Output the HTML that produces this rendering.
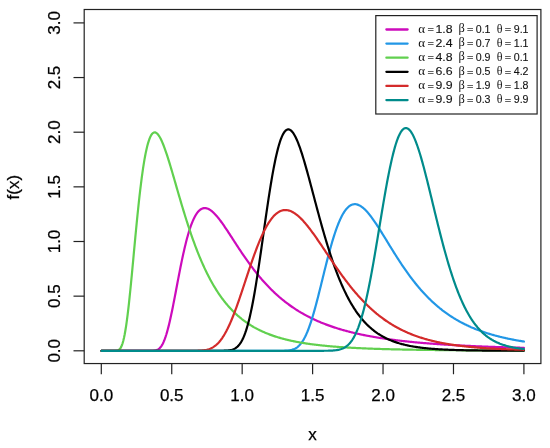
<!DOCTYPE html>
<html><head><meta charset="utf-8"><title>Density plot</title>
<style>
html,body{margin:0;padding:0;background:#fff}
body{width:550px;height:448px;overflow:hidden}
.t{font-family:"Liberation Sans",sans-serif;fill:#000;stroke:#000;stroke-width:0.25}
.l{font-family:"Liberation Sans",sans-serif;fill:#111;stroke:#111;stroke-width:0.12}
.g{font-family:"Liberation Serif","DejaVu Serif",serif;fill:#111}
</style></head><body>
<svg width="550" height="448" viewBox="0 0 550 448" style="display:block">
<rect width="550" height="448" fill="#fff"/>
<path d="M101.44,350.80 L102.15,350.80 L102.85,350.80 L103.56,350.80 L104.26,350.80 L104.97,350.80 L105.67,350.80 L106.38,350.80 L107.08,350.80 L107.79,350.80 L108.49,350.80 L109.20,350.80 L109.90,350.80 L110.61,350.80 L111.31,350.80 L112.02,350.80 L112.73,350.80 L113.43,350.80 L114.14,350.80 L114.84,350.80 L115.55,350.80 L116.25,350.80 L116.96,350.80 L117.66,350.80 L118.37,350.80 L119.07,350.80 L119.78,350.80 L120.48,350.80 L121.19,350.80 L121.89,350.80 L122.60,350.80 L123.30,350.80 L124.01,350.80 L124.72,350.80 L125.42,350.80 L126.13,350.80 L126.83,350.80 L127.54,350.80 L128.24,350.80 L128.95,350.80 L129.65,350.80 L130.36,350.80 L131.06,350.80 L131.77,350.80 L132.47,350.80 L133.18,350.80 L133.88,350.80 L134.59,350.80 L135.29,350.80 L136.00,350.80 L136.71,350.80 L137.41,350.80 L138.12,350.80 L138.82,350.80 L139.53,350.80 L140.23,350.80 L140.94,350.80 L141.64,350.80 L142.35,350.80 L143.05,350.80 L143.76,350.80 L144.46,350.80 L145.17,350.80 L145.87,350.80 L146.58,350.80 L147.28,350.80 L147.99,350.80 L148.70,350.80 L149.40,350.80 L150.11,350.79 L150.81,350.79 L151.52,350.78 L152.22,350.76 L152.93,350.73 L153.63,350.68 L154.34,350.60 L155.04,350.50 L155.75,350.35 L156.45,350.15 L157.16,349.87 L157.86,349.52 L158.57,349.08 L159.27,348.52 L159.98,347.85 L160.69,347.03 L161.39,346.07 L162.10,344.95 L162.80,343.66 L163.51,342.19 L164.21,340.54 L164.92,338.71 L165.62,336.70 L166.33,334.50 L167.03,332.12 L167.74,329.57 L168.44,326.86 L169.15,323.99 L169.85,320.97 L170.56,317.82 L171.26,314.54 L171.97,311.17 L172.68,307.69 L173.38,304.15 L174.09,300.53 L174.79,296.87 L175.50,293.18 L176.20,289.47 L176.91,285.75 L177.61,282.04 L178.32,278.36 L179.02,274.70 L179.73,271.09 L180.43,267.54 L181.14,264.05 L181.84,260.63 L182.55,257.29 L183.25,254.04 L183.96,250.89 L184.67,247.84 L185.37,244.89 L186.08,242.06 L186.78,239.33 L187.49,236.73 L188.19,234.24 L188.90,231.87 L189.60,229.62 L190.31,227.49 L191.01,225.48 L191.72,223.59 L192.42,221.82 L193.13,220.17 L193.83,218.64 L194.54,217.22 L195.24,215.92 L195.95,214.73 L196.66,213.64 L197.36,212.67 L198.07,211.79 L198.77,211.02 L199.48,210.34 L200.18,209.77 L200.89,209.28 L201.59,208.88 L202.30,208.56 L203.00,208.33 L203.71,208.18 L204.41,208.11 L205.12,208.11 L205.82,208.18 L206.53,208.31 L207.23,208.51 L207.94,208.77 L208.65,209.09 L209.35,209.47 L210.06,209.90 L210.76,210.38 L211.47,210.90 L212.17,211.47 L212.88,212.09 L213.58,212.74 L214.29,213.44 L214.99,214.16 L215.70,214.92 L216.40,215.72 L217.11,216.54 L217.81,217.39 L218.52,218.26 L219.22,219.16 L219.93,220.08 L220.63,221.02 L221.34,221.98 L222.05,222.96 L222.75,223.95 L223.46,224.96 L224.16,225.98 L224.87,227.01 L225.57,228.05 L226.28,229.11 L226.98,230.16 L227.69,231.23 L228.39,232.30 L229.10,233.38 L229.80,234.46 L230.51,235.55 L231.21,236.64 L231.92,237.72 L232.62,238.81 L233.33,239.90 L234.04,240.99 L234.74,242.08 L235.45,243.17 L236.15,244.26 L236.86,245.34 L237.56,246.42 L238.27,247.49 L238.97,248.56 L239.68,249.63 L240.38,250.69 L241.09,251.75 L241.79,252.80 L242.50,253.84 L243.20,254.88 L243.91,255.91 L244.61,256.94 L245.32,257.95 L246.03,258.97 L246.73,259.97 L247.44,260.96 L248.14,261.95 L248.85,262.93 L249.55,263.90 L250.26,264.87 L250.96,265.82 L251.67,266.77 L252.37,267.71 L253.08,268.63 L253.78,269.56 L254.49,270.47 L255.19,271.37 L255.90,272.26 L256.60,273.15 L257.31,274.03 L258.02,274.89 L258.72,275.75 L259.43,276.60 L260.13,277.44 L260.84,278.28 L261.54,279.10 L262.25,279.91 L262.95,280.72 L263.66,281.51 L264.36,282.30 L265.07,283.08 L265.77,283.85 L266.48,284.61 L267.18,285.36 L267.89,286.11 L268.59,286.84 L269.30,287.57 L270.01,288.29 L270.71,289.00 L271.42,289.70 L272.12,290.39 L272.83,291.08 L273.53,291.76 L274.24,292.42 L274.94,293.09 L275.65,293.74 L276.35,294.38 L277.06,295.02 L277.76,295.65 L278.47,296.27 L279.17,296.89 L279.88,297.49 L280.58,298.09 L281.29,298.69 L282.00,299.27 L282.70,299.85 L283.41,300.42 L284.11,300.98 L284.82,301.54 L285.52,302.09 L286.23,302.63 L286.93,303.17 L287.64,303.70 L288.34,304.22 L289.05,304.74 L289.75,305.25 L290.46,305.75 L291.16,306.25 L291.87,306.74 L292.57,307.22 L293.28,307.70 L293.99,308.18 L294.69,308.64 L295.40,309.10 L296.10,309.56 L296.81,310.01 L297.51,310.45 L298.22,310.89 L298.92,311.33 L299.63,311.75 L300.33,312.18 L301.04,312.59 L301.74,313.00 L302.45,313.41 L303.15,313.81 L303.86,314.21 L304.56,314.60 L305.27,314.99 L305.98,315.37 L306.68,315.75 L307.39,316.12 L308.09,316.49 L308.80,316.85 L309.50,317.21 L310.21,317.56 L310.91,317.91 L311.62,318.26 L312.32,318.60 L313.03,318.94 L313.73,319.27 L314.44,319.60 L315.14,319.93 L315.85,320.25 L316.55,320.56 L317.26,320.88 L317.97,321.19 L318.67,321.49 L319.38,321.79 L320.08,322.09 L320.79,322.39 L321.49,322.68 L322.20,322.96 L322.90,323.25 L323.61,323.53 L324.31,323.80 L325.02,324.08 L325.72,324.35 L326.43,324.61 L327.13,324.88 L327.84,325.14 L328.54,325.40 L329.25,325.65 L329.96,325.90 L330.66,326.15 L331.37,326.39 L332.07,326.64 L332.78,326.88 L333.48,327.11 L334.19,327.35 L334.89,327.58 L335.60,327.81 L336.30,328.03 L337.01,328.25 L337.71,328.47 L338.42,328.69 L339.12,328.91 L339.83,329.12 L340.53,329.33 L341.24,329.54 L341.94,329.74 L342.65,329.94 L343.36,330.14 L344.06,330.34 L344.77,330.54 L345.47,330.73 L346.18,330.92 L346.88,331.11 L347.59,331.30 L348.29,331.48 L349.00,331.67 L349.70,331.85 L350.41,332.02 L351.11,332.20 L351.82,332.37 L352.52,332.55 L353.23,332.72 L353.93,332.89 L354.64,333.05 L355.35,333.22 L356.05,333.38 L356.76,333.54 L357.46,333.70 L358.17,333.86 L358.87,334.01 L359.58,334.17 L360.28,334.32 L360.99,334.47 L361.69,334.62 L362.40,334.76 L363.10,334.91 L363.81,335.05 L364.51,335.19 L365.22,335.33 L365.92,335.47 L366.63,335.61 L367.34,335.75 L368.04,335.88 L368.75,336.01 L369.45,336.15 L370.16,336.28 L370.86,336.40 L371.57,336.53 L372.27,336.66 L372.98,336.78 L373.68,336.91 L374.39,337.03 L375.09,337.15 L375.80,337.27 L376.50,337.38 L377.21,337.50 L377.91,337.62 L378.62,337.73 L379.33,337.84 L380.03,337.96 L380.74,338.07 L381.44,338.18 L382.15,338.28 L382.85,338.39 L383.56,338.50 L384.26,338.60 L384.97,338.70 L385.67,338.81 L386.38,338.91 L387.08,339.01 L387.79,339.11 L388.49,339.21 L389.20,339.30 L389.90,339.40 L390.61,339.50 L391.32,339.59 L392.02,339.68 L392.73,339.78 L393.43,339.87 L394.14,339.96 L394.84,340.05 L395.55,340.14 L396.25,340.22 L396.96,340.31 L397.66,340.40 L398.37,340.48 L399.07,340.57 L399.78,340.65 L400.48,340.73 L401.19,340.81 L401.89,340.89 L402.60,340.97 L403.31,341.05 L404.01,341.13 L404.72,341.21 L405.42,341.29 L406.13,341.36 L406.83,341.44 L407.54,341.51 L408.24,341.59 L408.95,341.66 L409.65,341.73 L410.36,341.80 L411.06,341.88 L411.77,341.95 L412.47,342.02 L413.18,342.08 L413.88,342.15 L414.59,342.22 L415.30,342.29 L416.00,342.35 L416.71,342.42 L417.41,342.48 L418.12,342.55 L418.82,342.61 L419.53,342.68 L420.23,342.74 L420.94,342.80 L421.64,342.86 L422.35,342.92 L423.05,342.98 L423.76,343.04 L424.46,343.10 L425.17,343.16 L425.87,343.22 L426.58,343.27 L427.29,343.33 L427.99,343.39 L428.70,343.44 L429.40,343.50 L430.11,343.55 L430.81,343.61 L431.52,343.66 L432.22,343.71 L432.93,343.77 L433.63,343.82 L434.34,343.87 L435.04,343.92 L435.75,343.97 L436.45,344.02 L437.16,344.07 L437.86,344.12 L438.57,344.17 L439.28,344.22 L439.98,344.27 L440.69,344.32 L441.39,344.36 L442.10,344.41 L442.80,344.46 L443.51,344.50 L444.21,344.55 L444.92,344.59 L445.62,344.64 L446.33,344.68 L447.03,344.72 L447.74,344.77 L448.44,344.81 L449.15,344.85 L449.85,344.90 L450.56,344.94 L451.27,344.98 L451.97,345.02 L452.68,345.06 L453.38,345.10 L454.09,345.14 L454.79,345.18 L455.50,345.22 L456.20,345.26 L456.91,345.30 L457.61,345.34 L458.32,345.38 L459.02,345.41 L459.73,345.45 L460.43,345.49 L461.14,345.52 L461.84,345.56 L462.55,345.60 L463.25,345.63 L463.96,345.67 L464.67,345.70 L465.37,345.74 L466.08,345.77 L466.78,345.81 L467.49,345.84 L468.19,345.87 L468.90,345.91 L469.60,345.94 L470.31,345.97 L471.01,346.01 L471.72,346.04 L472.42,346.07 L473.13,346.10 L473.83,346.13 L474.54,346.16 L475.24,346.20 L475.95,346.23 L476.66,346.26 L477.36,346.29 L478.07,346.32 L478.77,346.35 L479.48,346.38 L480.18,346.41 L480.89,346.43 L481.59,346.46 L482.30,346.49 L483.00,346.52 L483.71,346.55 L484.41,346.58 L485.12,346.60 L485.82,346.63 L486.53,346.66 L487.23,346.68 L487.94,346.71 L488.65,346.74 L489.35,346.76 L490.06,346.79 L490.76,346.81 L491.47,346.84 L492.17,346.87 L492.88,346.89 L493.58,346.92 L494.29,346.94 L494.99,346.97 L495.70,346.99 L496.40,347.01 L497.11,347.04 L497.81,347.06 L498.52,347.09 L499.22,347.11 L499.93,347.13 L500.64,347.15 L501.34,347.18 L502.05,347.20 L502.75,347.22 L503.46,347.25 L504.16,347.27 L504.87,347.29 L505.57,347.31 L506.28,347.33 L506.98,347.35 L507.69,347.38 L508.39,347.40 L509.10,347.42 L509.80,347.44 L510.51,347.46 L511.21,347.48 L511.92,347.50 L512.63,347.52 L513.33,347.54 L514.04,347.56 L514.74,347.58 L515.45,347.60 L516.15,347.62 L516.86,347.64 L517.56,347.66 L518.27,347.68 L518.97,347.69 L519.68,347.71 L520.38,347.73 L521.09,347.75 L521.79,347.77 L522.50,347.79 L523.20,347.80 L523.91,347.82" fill="none" stroke="#cd0bbc" stroke-width="2.2" stroke-linecap="round" stroke-linejoin="round"/>
<path d="M101.44,350.80 L102.15,350.80 L102.85,350.80 L103.56,350.80 L104.26,350.80 L104.97,350.80 L105.67,350.80 L106.38,350.80 L107.08,350.80 L107.79,350.80 L108.49,350.80 L109.20,350.80 L109.90,350.80 L110.61,350.80 L111.31,350.80 L112.02,350.80 L112.73,350.80 L113.43,350.80 L114.14,350.80 L114.84,350.80 L115.55,350.80 L116.25,350.80 L116.96,350.80 L117.66,350.80 L118.37,350.80 L119.07,350.80 L119.78,350.80 L120.48,350.80 L121.19,350.80 L121.89,350.80 L122.60,350.80 L123.30,350.80 L124.01,350.80 L124.72,350.80 L125.42,350.80 L126.13,350.80 L126.83,350.80 L127.54,350.80 L128.24,350.80 L128.95,350.80 L129.65,350.80 L130.36,350.80 L131.06,350.80 L131.77,350.80 L132.47,350.80 L133.18,350.80 L133.88,350.80 L134.59,350.80 L135.29,350.80 L136.00,350.80 L136.71,350.80 L137.41,350.80 L138.12,350.80 L138.82,350.80 L139.53,350.80 L140.23,350.80 L140.94,350.80 L141.64,350.80 L142.35,350.80 L143.05,350.80 L143.76,350.80 L144.46,350.80 L145.17,350.80 L145.87,350.80 L146.58,350.80 L147.28,350.80 L147.99,350.80 L148.70,350.80 L149.40,350.80 L150.11,350.80 L150.81,350.80 L151.52,350.80 L152.22,350.80 L152.93,350.80 L153.63,350.80 L154.34,350.80 L155.04,350.80 L155.75,350.80 L156.45,350.80 L157.16,350.80 L157.86,350.80 L158.57,350.80 L159.27,350.80 L159.98,350.80 L160.69,350.80 L161.39,350.80 L162.10,350.80 L162.80,350.80 L163.51,350.80 L164.21,350.80 L164.92,350.80 L165.62,350.80 L166.33,350.80 L167.03,350.80 L167.74,350.80 L168.44,350.80 L169.15,350.80 L169.85,350.80 L170.56,350.80 L171.26,350.80 L171.97,350.80 L172.68,350.80 L173.38,350.80 L174.09,350.80 L174.79,350.80 L175.50,350.80 L176.20,350.80 L176.91,350.80 L177.61,350.80 L178.32,350.80 L179.02,350.80 L179.73,350.80 L180.43,350.80 L181.14,350.80 L181.84,350.80 L182.55,350.80 L183.25,350.80 L183.96,350.80 L184.67,350.80 L185.37,350.80 L186.08,350.80 L186.78,350.80 L187.49,350.80 L188.19,350.80 L188.90,350.80 L189.60,350.80 L190.31,350.80 L191.01,350.80 L191.72,350.80 L192.42,350.80 L193.13,350.80 L193.83,350.80 L194.54,350.80 L195.24,350.80 L195.95,350.80 L196.66,350.80 L197.36,350.80 L198.07,350.80 L198.77,350.80 L199.48,350.80 L200.18,350.80 L200.89,350.80 L201.59,350.80 L202.30,350.80 L203.00,350.80 L203.71,350.80 L204.41,350.80 L205.12,350.80 L205.82,350.80 L206.53,350.80 L207.23,350.80 L207.94,350.80 L208.65,350.80 L209.35,350.80 L210.06,350.80 L210.76,350.80 L211.47,350.80 L212.17,350.80 L212.88,350.80 L213.58,350.80 L214.29,350.80 L214.99,350.80 L215.70,350.80 L216.40,350.80 L217.11,350.80 L217.81,350.80 L218.52,350.80 L219.22,350.80 L219.93,350.80 L220.63,350.80 L221.34,350.80 L222.05,350.80 L222.75,350.80 L223.46,350.80 L224.16,350.80 L224.87,350.80 L225.57,350.80 L226.28,350.80 L226.98,350.80 L227.69,350.80 L228.39,350.80 L229.10,350.80 L229.80,350.80 L230.51,350.80 L231.21,350.80 L231.92,350.80 L232.62,350.80 L233.33,350.80 L234.04,350.80 L234.74,350.80 L235.45,350.80 L236.15,350.80 L236.86,350.80 L237.56,350.80 L238.27,350.80 L238.97,350.80 L239.68,350.80 L240.38,350.80 L241.09,350.80 L241.79,350.80 L242.50,350.80 L243.20,350.80 L243.91,350.80 L244.61,350.80 L245.32,350.80 L246.03,350.80 L246.73,350.80 L247.44,350.80 L248.14,350.80 L248.85,350.80 L249.55,350.80 L250.26,350.80 L250.96,350.80 L251.67,350.80 L252.37,350.80 L253.08,350.80 L253.78,350.80 L254.49,350.80 L255.19,350.80 L255.90,350.80 L256.60,350.80 L257.31,350.80 L258.02,350.80 L258.72,350.80 L259.43,350.80 L260.13,350.80 L260.84,350.80 L261.54,350.80 L262.25,350.80 L262.95,350.80 L263.66,350.80 L264.36,350.80 L265.07,350.80 L265.77,350.80 L266.48,350.80 L267.18,350.80 L267.89,350.80 L268.59,350.80 L269.30,350.80 L270.01,350.80 L270.71,350.80 L271.42,350.80 L272.12,350.80 L272.83,350.80 L273.53,350.80 L274.24,350.80 L274.94,350.80 L275.65,350.80 L276.35,350.80 L277.06,350.80 L277.76,350.80 L278.47,350.80 L279.17,350.79 L279.88,350.79 L280.58,350.79 L281.29,350.78 L282.00,350.77 L282.70,350.76 L283.41,350.75 L284.11,350.73 L284.82,350.71 L285.52,350.68 L286.23,350.64 L286.93,350.60 L287.64,350.54 L288.34,350.47 L289.05,350.38 L289.75,350.28 L290.46,350.16 L291.16,350.01 L291.87,349.84 L292.57,349.63 L293.28,349.40 L293.99,349.12 L294.69,348.80 L295.40,348.44 L296.10,348.03 L296.81,347.57 L297.51,347.04 L298.22,346.46 L298.92,345.81 L299.63,345.09 L300.33,344.29 L301.04,343.42 L301.74,342.47 L302.45,341.44 L303.15,340.32 L303.86,339.11 L304.56,337.82 L305.27,336.43 L305.98,334.95 L306.68,333.38 L307.39,331.72 L308.09,329.97 L308.80,328.12 L309.50,326.19 L310.21,324.17 L310.91,322.07 L311.62,319.88 L312.32,317.62 L313.03,315.28 L313.73,312.86 L314.44,310.39 L315.14,307.85 L315.85,305.25 L316.55,302.60 L317.26,299.90 L317.97,297.16 L318.67,294.39 L319.38,291.58 L320.08,288.76 L320.79,285.91 L321.49,283.05 L322.20,280.18 L322.90,277.31 L323.61,274.45 L324.31,271.59 L325.02,268.75 L325.72,265.93 L326.43,263.14 L327.13,260.38 L327.84,257.65 L328.54,254.96 L329.25,252.32 L329.96,249.73 L330.66,247.19 L331.37,244.70 L332.07,242.27 L332.78,239.91 L333.48,237.61 L334.19,235.38 L334.89,233.22 L335.60,231.13 L336.30,229.11 L337.01,227.17 L337.71,225.31 L338.42,223.53 L339.12,221.83 L339.83,220.20 L340.53,218.66 L341.24,217.20 L341.94,215.82 L342.65,214.52 L343.36,213.30 L344.06,212.16 L344.77,211.11 L345.47,210.13 L346.18,209.23 L346.88,208.41 L347.59,207.67 L348.29,207.00 L349.00,206.41 L349.70,205.89 L350.41,205.44 L351.11,205.07 L351.82,204.76 L352.52,204.52 L353.23,204.35 L353.93,204.24 L354.64,204.19 L355.35,204.21 L356.05,204.28 L356.76,204.41 L357.46,204.60 L358.17,204.84 L358.87,205.14 L359.58,205.48 L360.28,205.87 L360.99,206.31 L361.69,206.80 L362.40,207.32 L363.10,207.89 L363.81,208.50 L364.51,209.15 L365.22,209.83 L365.92,210.55 L366.63,211.30 L367.34,212.08 L368.04,212.90 L368.75,213.74 L369.45,214.61 L370.16,215.50 L370.86,216.42 L371.57,217.36 L372.27,218.32 L372.98,219.30 L373.68,220.30 L374.39,221.31 L375.09,222.35 L375.80,223.40 L376.50,224.46 L377.21,225.53 L377.91,226.62 L378.62,227.71 L379.33,228.82 L380.03,229.93 L380.74,231.06 L381.44,232.18 L382.15,233.32 L382.85,234.46 L383.56,235.60 L384.26,236.75 L384.97,237.90 L385.67,239.05 L386.38,240.20 L387.08,241.35 L387.79,242.51 L388.49,243.66 L389.20,244.81 L389.90,245.96 L390.61,247.10 L391.32,248.25 L392.02,249.39 L392.73,250.53 L393.43,251.66 L394.14,252.79 L394.84,253.91 L395.55,255.03 L396.25,256.14 L396.96,257.24 L397.66,258.34 L398.37,259.44 L399.07,260.52 L399.78,261.60 L400.48,262.67 L401.19,263.74 L401.89,264.79 L402.60,265.84 L403.31,266.88 L404.01,267.91 L404.72,268.93 L405.42,269.95 L406.13,270.95 L406.83,271.95 L407.54,272.94 L408.24,273.92 L408.95,274.89 L409.65,275.85 L410.36,276.80 L411.06,277.74 L411.77,278.67 L412.47,279.59 L413.18,280.51 L413.88,281.41 L414.59,282.30 L415.30,283.19 L416.00,284.06 L416.71,284.93 L417.41,285.78 L418.12,286.63 L418.82,287.47 L419.53,288.29 L420.23,289.11 L420.94,289.92 L421.64,290.72 L422.35,291.51 L423.05,292.28 L423.76,293.06 L424.46,293.82 L425.17,294.57 L425.87,295.31 L426.58,296.04 L427.29,296.77 L427.99,297.48 L428.70,298.19 L429.40,298.89 L430.11,299.58 L430.81,300.26 L431.52,300.93 L432.22,301.59 L432.93,302.25 L433.63,302.89 L434.34,303.53 L435.04,304.16 L435.75,304.78 L436.45,305.39 L437.16,306.00 L437.86,306.59 L438.57,307.18 L439.28,307.76 L439.98,308.34 L440.69,308.90 L441.39,309.46 L442.10,310.01 L442.80,310.56 L443.51,311.09 L444.21,311.62 L444.92,312.14 L445.62,312.66 L446.33,313.17 L447.03,313.67 L447.74,314.16 L448.44,314.65 L449.15,315.13 L449.85,315.60 L450.56,316.07 L451.27,316.53 L451.97,316.98 L452.68,317.43 L453.38,317.87 L454.09,318.31 L454.79,318.74 L455.50,319.16 L456.20,319.58 L456.91,319.99 L457.61,320.40 L458.32,320.80 L459.02,321.20 L459.73,321.59 L460.43,321.97 L461.14,322.35 L461.84,322.72 L462.55,323.09 L463.25,323.46 L463.96,323.82 L464.67,324.17 L465.37,324.52 L466.08,324.86 L466.78,325.20 L467.49,325.53 L468.19,325.86 L468.90,326.19 L469.60,326.51 L470.31,326.82 L471.01,327.14 L471.72,327.44 L472.42,327.75 L473.13,328.04 L473.83,328.34 L474.54,328.63 L475.24,328.91 L475.95,329.20 L476.66,329.47 L477.36,329.75 L478.07,330.02 L478.77,330.29 L479.48,330.55 L480.18,330.81 L480.89,331.06 L481.59,331.32 L482.30,331.57 L483.00,331.81 L483.71,332.05 L484.41,332.29 L485.12,332.53 L485.82,332.76 L486.53,332.99 L487.23,333.21 L487.94,333.43 L488.65,333.65 L489.35,333.87 L490.06,334.08 L490.76,334.29 L491.47,334.50 L492.17,334.70 L492.88,334.91 L493.58,335.11 L494.29,335.30 L494.99,335.50 L495.70,335.69 L496.40,335.87 L497.11,336.06 L497.81,336.24 L498.52,336.42 L499.22,336.60 L499.93,336.78 L500.64,336.95 L501.34,337.12 L502.05,337.29 L502.75,337.46 L503.46,337.62 L504.16,337.78 L504.87,337.94 L505.57,338.10 L506.28,338.25 L506.98,338.41 L507.69,338.56 L508.39,338.71 L509.10,338.85 L509.80,339.00 L510.51,339.14 L511.21,339.28 L511.92,339.42 L512.63,339.56 L513.33,339.69 L514.04,339.83 L514.74,339.96 L515.45,340.09 L516.15,340.22 L516.86,340.34 L517.56,340.47 L518.27,340.59 L518.97,340.71 L519.68,340.83 L520.38,340.95 L521.09,341.07 L521.79,341.18 L522.50,341.30 L523.20,341.41 L523.91,341.52" fill="none" stroke="#2297e6" stroke-width="2.2" stroke-linecap="round" stroke-linejoin="round"/>
<path d="M101.44,350.80 L102.15,350.80 L102.85,350.80 L103.56,350.80 L104.26,350.80 L104.97,350.80 L105.67,350.80 L106.38,350.80 L107.08,350.80 L107.79,350.80 L108.49,350.80 L109.20,350.80 L109.90,350.80 L110.61,350.80 L111.31,350.80 L112.02,350.80 L112.73,350.80 L113.43,350.80 L114.14,350.80 L114.84,350.79 L115.55,350.77 L116.25,350.72 L116.96,350.63 L117.66,350.46 L118.37,350.17 L119.07,349.73 L119.78,349.07 L120.48,348.15 L121.19,346.91 L121.89,345.29 L122.60,343.26 L123.30,340.76 L124.01,337.78 L124.72,334.30 L125.42,330.31 L126.13,325.82 L126.83,320.84 L127.54,315.39 L128.24,309.52 L128.95,303.26 L129.65,296.66 L130.36,289.76 L131.06,282.62 L131.77,275.30 L132.47,267.83 L133.18,260.29 L133.88,252.71 L134.59,245.14 L135.29,237.64 L136.00,230.24 L136.71,222.97 L137.41,215.89 L138.12,209.01 L138.82,202.36 L139.53,195.97 L140.23,189.85 L140.94,184.03 L141.64,178.51 L142.35,173.30 L143.05,168.42 L143.76,163.86 L144.46,159.63 L145.17,155.74 L145.87,152.16 L146.58,148.92 L147.28,145.99 L147.99,143.37 L148.70,141.06 L149.40,139.04 L150.11,137.31 L150.81,135.87 L151.52,134.68 L152.22,133.76 L152.93,133.08 L153.63,132.64 L154.34,132.43 L155.04,132.43 L155.75,132.63 L156.45,133.02 L157.16,133.59 L157.86,134.34 L158.57,135.24 L159.27,136.30 L159.98,137.49 L160.69,138.81 L161.39,140.26 L162.10,141.82 L162.80,143.48 L163.51,145.24 L164.21,147.09 L164.92,149.02 L165.62,151.02 L166.33,153.08 L167.03,155.21 L167.74,157.39 L168.44,159.62 L169.15,161.88 L169.85,164.19 L170.56,166.53 L171.26,168.90 L171.97,171.28 L172.68,173.69 L173.38,176.11 L174.09,178.54 L174.79,180.98 L175.50,183.43 L176.20,185.87 L176.91,188.32 L177.61,190.76 L178.32,193.19 L179.02,195.61 L179.73,198.03 L180.43,200.43 L181.14,202.82 L181.84,205.19 L182.55,207.54 L183.25,209.87 L183.96,212.19 L184.67,214.48 L185.37,216.75 L186.08,218.99 L186.78,221.21 L187.49,223.41 L188.19,225.58 L188.90,227.73 L189.60,229.85 L190.31,231.94 L191.01,234.00 L191.72,236.04 L192.42,238.05 L193.13,240.03 L193.83,241.98 L194.54,243.90 L195.24,245.79 L195.95,247.66 L196.66,249.50 L197.36,251.31 L198.07,253.09 L198.77,254.84 L199.48,256.56 L200.18,258.26 L200.89,259.92 L201.59,261.56 L202.30,263.17 L203.00,264.76 L203.71,266.32 L204.41,267.85 L205.12,269.35 L205.82,270.83 L206.53,272.28 L207.23,273.71 L207.94,275.11 L208.65,276.48 L209.35,277.83 L210.06,279.16 L210.76,280.46 L211.47,281.74 L212.17,283.00 L212.88,284.23 L213.58,285.44 L214.29,286.63 L214.99,287.79 L215.70,288.94 L216.40,290.06 L217.11,291.16 L217.81,292.24 L218.52,293.31 L219.22,294.35 L219.93,295.37 L220.63,296.37 L221.34,297.35 L222.05,298.32 L222.75,299.26 L223.46,300.19 L224.16,301.10 L224.87,302.00 L225.57,302.87 L226.28,303.73 L226.98,304.57 L227.69,305.40 L228.39,306.21 L229.10,307.01 L229.80,307.79 L230.51,308.56 L231.21,309.31 L231.92,310.04 L232.62,310.77 L233.33,311.48 L234.04,312.17 L234.74,312.85 L235.45,313.52 L236.15,314.18 L236.86,314.82 L237.56,315.45 L238.27,316.07 L238.97,316.68 L239.68,317.28 L240.38,317.86 L241.09,318.43 L241.79,319.00 L242.50,319.55 L243.20,320.09 L243.91,320.62 L244.61,321.14 L245.32,321.65 L246.03,322.16 L246.73,322.65 L247.44,323.13 L248.14,323.60 L248.85,324.07 L249.55,324.52 L250.26,324.97 L250.96,325.41 L251.67,325.84 L252.37,326.26 L253.08,326.68 L253.78,327.09 L254.49,327.48 L255.19,327.88 L255.90,328.26 L256.60,328.64 L257.31,329.01 L258.02,329.37 L258.72,329.73 L259.43,330.08 L260.13,330.42 L260.84,330.76 L261.54,331.09 L262.25,331.42 L262.95,331.73 L263.66,332.05 L264.36,332.35 L265.07,332.66 L265.77,332.95 L266.48,333.24 L267.18,333.53 L267.89,333.81 L268.59,334.08 L269.30,334.35 L270.01,334.62 L270.71,334.88 L271.42,335.14 L272.12,335.39 L272.83,335.63 L273.53,335.88 L274.24,336.11 L274.94,336.35 L275.65,336.58 L276.35,336.80 L277.06,337.02 L277.76,337.24 L278.47,337.45 L279.17,337.66 L279.88,337.87 L280.58,338.07 L281.29,338.27 L282.00,338.47 L282.70,338.66 L283.41,338.85 L284.11,339.03 L284.82,339.21 L285.52,339.39 L286.23,339.57 L286.93,339.74 L287.64,339.91 L288.34,340.08 L289.05,340.24 L289.75,340.40 L290.46,340.56 L291.16,340.71 L291.87,340.87 L292.57,341.02 L293.28,341.17 L293.99,341.31 L294.69,341.45 L295.40,341.59 L296.10,341.73 L296.81,341.87 L297.51,342.00 L298.22,342.13 L298.92,342.26 L299.63,342.39 L300.33,342.51 L301.04,342.63 L301.74,342.75 L302.45,342.87 L303.15,342.99 L303.86,343.10 L304.56,343.21 L305.27,343.32 L305.98,343.43 L306.68,343.54 L307.39,343.65 L308.09,343.75 L308.80,343.85 L309.50,343.95 L310.21,344.05 L310.91,344.15 L311.62,344.24 L312.32,344.33 L313.03,344.43 L313.73,344.52 L314.44,344.61 L315.14,344.69 L315.85,344.78 L316.55,344.87 L317.26,344.95 L317.97,345.03 L318.67,345.11 L319.38,345.19 L320.08,345.27 L320.79,345.35 L321.49,345.42 L322.20,345.50 L322.90,345.57 L323.61,345.64 L324.31,345.71 L325.02,345.78 L325.72,345.85 L326.43,345.92 L327.13,345.99 L327.84,346.05 L328.54,346.12 L329.25,346.18 L329.96,346.25 L330.66,346.31 L331.37,346.37 L332.07,346.43 L332.78,346.49 L333.48,346.55 L334.19,346.60 L334.89,346.66 L335.60,346.71 L336.30,346.77 L337.01,346.82 L337.71,346.88 L338.42,346.93 L339.12,346.98 L339.83,347.03 L340.53,347.08 L341.24,347.13 L341.94,347.18 L342.65,347.22 L343.36,347.27 L344.06,347.32 L344.77,347.36 L345.47,347.41 L346.18,347.45 L346.88,347.49 L347.59,347.54 L348.29,347.58 L349.00,347.62 L349.70,347.66 L350.41,347.70 L351.11,347.74 L351.82,347.78 L352.52,347.82 L353.23,347.86 L353.93,347.90 L354.64,347.93 L355.35,347.97 L356.05,348.00 L356.76,348.04 L357.46,348.07 L358.17,348.11 L358.87,348.14 L359.58,348.18 L360.28,348.21 L360.99,348.24 L361.69,348.27 L362.40,348.30 L363.10,348.34 L363.81,348.37 L364.51,348.40 L365.22,348.43 L365.92,348.46 L366.63,348.48 L367.34,348.51 L368.04,348.54 L368.75,348.57 L369.45,348.60 L370.16,348.62 L370.86,348.65 L371.57,348.68 L372.27,348.70 L372.98,348.73 L373.68,348.75 L374.39,348.78 L375.09,348.80 L375.80,348.82 L376.50,348.85 L377.21,348.87 L377.91,348.89 L378.62,348.92 L379.33,348.94 L380.03,348.96 L380.74,348.98 L381.44,349.01 L382.15,349.03 L382.85,349.05 L383.56,349.07 L384.26,349.09 L384.97,349.11 L385.67,349.13 L386.38,349.15 L387.08,349.17 L387.79,349.19 L388.49,349.21 L389.20,349.22 L389.90,349.24 L390.61,349.26 L391.32,349.28 L392.02,349.30 L392.73,349.31 L393.43,349.33 L394.14,349.35 L394.84,349.36 L395.55,349.38 L396.25,349.40 L396.96,349.41 L397.66,349.43 L398.37,349.44 L399.07,349.46 L399.78,349.47 L400.48,349.49 L401.19,349.50 L401.89,349.52 L402.60,349.53 L403.31,349.55 L404.01,349.56 L404.72,349.58 L405.42,349.59 L406.13,349.60 L406.83,349.62 L407.54,349.63 L408.24,349.64 L408.95,349.65 L409.65,349.67 L410.36,349.68 L411.06,349.69 L411.77,349.70 L412.47,349.72 L413.18,349.73 L413.88,349.74 L414.59,349.75 L415.30,349.76 L416.00,349.77 L416.71,349.79 L417.41,349.80 L418.12,349.81 L418.82,349.82 L419.53,349.83 L420.23,349.84 L420.94,349.85 L421.64,349.86 L422.35,349.87 L423.05,349.88 L423.76,349.89 L424.46,349.90 L425.17,349.91 L425.87,349.92 L426.58,349.93 L427.29,349.94 L427.99,349.95 L428.70,349.96 L429.40,349.96 L430.11,349.97 L430.81,349.98 L431.52,349.99 L432.22,350.00 L432.93,350.01 L433.63,350.02 L434.34,350.02 L435.04,350.03 L435.75,350.04 L436.45,350.05 L437.16,350.06 L437.86,350.06 L438.57,350.07 L439.28,350.08 L439.98,350.09 L440.69,350.09 L441.39,350.10 L442.10,350.11 L442.80,350.12 L443.51,350.12 L444.21,350.13 L444.92,350.14 L445.62,350.14 L446.33,350.15 L447.03,350.16 L447.74,350.16 L448.44,350.17 L449.15,350.18 L449.85,350.18 L450.56,350.19 L451.27,350.19 L451.97,350.20 L452.68,350.21 L453.38,350.21 L454.09,350.22 L454.79,350.22 L455.50,350.23 L456.20,350.24 L456.91,350.24 L457.61,350.25 L458.32,350.25 L459.02,350.26 L459.73,350.26 L460.43,350.27 L461.14,350.27 L461.84,350.28 L462.55,350.28 L463.25,350.29 L463.96,350.29 L464.67,350.30 L465.37,350.30 L466.08,350.31 L466.78,350.31 L467.49,350.32 L468.19,350.32 L468.90,350.33 L469.60,350.33 L470.31,350.34 L471.01,350.34 L471.72,350.35 L472.42,350.35 L473.13,350.35 L473.83,350.36 L474.54,350.36 L475.24,350.37 L475.95,350.37 L476.66,350.37 L477.36,350.38 L478.07,350.38 L478.77,350.39 L479.48,350.39 L480.18,350.39 L480.89,350.40 L481.59,350.40 L482.30,350.41 L483.00,350.41 L483.71,350.41 L484.41,350.42 L485.12,350.42 L485.82,350.42 L486.53,350.43 L487.23,350.43 L487.94,350.43 L488.65,350.44 L489.35,350.44 L490.06,350.44 L490.76,350.45 L491.47,350.45 L492.17,350.45 L492.88,350.46 L493.58,350.46 L494.29,350.46 L494.99,350.47 L495.70,350.47 L496.40,350.47 L497.11,350.48 L497.81,350.48 L498.52,350.48 L499.22,350.48 L499.93,350.49 L500.64,350.49 L501.34,350.49 L502.05,350.50 L502.75,350.50 L503.46,350.50 L504.16,350.50 L504.87,350.51 L505.57,350.51 L506.28,350.51 L506.98,350.51 L507.69,350.52 L508.39,350.52 L509.10,350.52 L509.80,350.52 L510.51,350.53 L511.21,350.53 L511.92,350.53 L512.63,350.53 L513.33,350.54 L514.04,350.54 L514.74,350.54 L515.45,350.54 L516.15,350.55 L516.86,350.55 L517.56,350.55 L518.27,350.55 L518.97,350.55 L519.68,350.56 L520.38,350.56 L521.09,350.56 L521.79,350.56 L522.50,350.57 L523.20,350.57 L523.91,350.57" fill="none" stroke="#61d04f" stroke-width="2.2" stroke-linecap="round" stroke-linejoin="round"/>
<path d="M101.44,350.80 L102.15,350.80 L102.85,350.80 L103.56,350.80 L104.26,350.80 L104.97,350.80 L105.67,350.80 L106.38,350.80 L107.08,350.80 L107.79,350.80 L108.49,350.80 L109.20,350.80 L109.90,350.80 L110.61,350.80 L111.31,350.80 L112.02,350.80 L112.73,350.80 L113.43,350.80 L114.14,350.80 L114.84,350.80 L115.55,350.80 L116.25,350.80 L116.96,350.80 L117.66,350.80 L118.37,350.80 L119.07,350.80 L119.78,350.80 L120.48,350.80 L121.19,350.80 L121.89,350.80 L122.60,350.80 L123.30,350.80 L124.01,350.80 L124.72,350.80 L125.42,350.80 L126.13,350.80 L126.83,350.80 L127.54,350.80 L128.24,350.80 L128.95,350.80 L129.65,350.80 L130.36,350.80 L131.06,350.80 L131.77,350.80 L132.47,350.80 L133.18,350.80 L133.88,350.80 L134.59,350.80 L135.29,350.80 L136.00,350.80 L136.71,350.80 L137.41,350.80 L138.12,350.80 L138.82,350.80 L139.53,350.80 L140.23,350.80 L140.94,350.80 L141.64,350.80 L142.35,350.80 L143.05,350.80 L143.76,350.80 L144.46,350.80 L145.17,350.80 L145.87,350.80 L146.58,350.80 L147.28,350.80 L147.99,350.80 L148.70,350.80 L149.40,350.80 L150.11,350.80 L150.81,350.80 L151.52,350.80 L152.22,350.80 L152.93,350.80 L153.63,350.80 L154.34,350.80 L155.04,350.80 L155.75,350.80 L156.45,350.80 L157.16,350.80 L157.86,350.80 L158.57,350.80 L159.27,350.80 L159.98,350.80 L160.69,350.80 L161.39,350.80 L162.10,350.80 L162.80,350.80 L163.51,350.80 L164.21,350.80 L164.92,350.80 L165.62,350.80 L166.33,350.80 L167.03,350.80 L167.74,350.80 L168.44,350.80 L169.15,350.80 L169.85,350.80 L170.56,350.80 L171.26,350.80 L171.97,350.80 L172.68,350.80 L173.38,350.80 L174.09,350.80 L174.79,350.80 L175.50,350.80 L176.20,350.80 L176.91,350.80 L177.61,350.80 L178.32,350.80 L179.02,350.80 L179.73,350.80 L180.43,350.80 L181.14,350.80 L181.84,350.80 L182.55,350.80 L183.25,350.80 L183.96,350.80 L184.67,350.80 L185.37,350.80 L186.08,350.80 L186.78,350.80 L187.49,350.80 L188.19,350.80 L188.90,350.80 L189.60,350.80 L190.31,350.80 L191.01,350.80 L191.72,350.80 L192.42,350.80 L193.13,350.80 L193.83,350.80 L194.54,350.80 L195.24,350.80 L195.95,350.80 L196.66,350.80 L197.36,350.80 L198.07,350.80 L198.77,350.80 L199.48,350.80 L200.18,350.80 L200.89,350.80 L201.59,350.80 L202.30,350.80 L203.00,350.80 L203.71,350.80 L204.41,350.80 L205.12,350.80 L205.82,350.80 L206.53,350.80 L207.23,350.80 L207.94,350.80 L208.65,350.80 L209.35,350.80 L210.06,350.80 L210.76,350.80 L211.47,350.80 L212.17,350.80 L212.88,350.80 L213.58,350.80 L214.29,350.80 L214.99,350.80 L215.70,350.80 L216.40,350.80 L217.11,350.80 L217.81,350.80 L218.52,350.79 L219.22,350.79 L219.93,350.79 L220.63,350.78 L221.34,350.78 L222.05,350.77 L222.75,350.76 L223.46,350.74 L224.16,350.72 L224.87,350.70 L225.57,350.67 L226.28,350.63 L226.98,350.58 L227.69,350.52 L228.39,350.45 L229.10,350.36 L229.80,350.25 L230.51,350.11 L231.21,349.96 L231.92,349.77 L232.62,349.55 L233.33,349.28 L234.04,348.98 L234.74,348.62 L235.45,348.21 L236.15,347.73 L236.86,347.19 L237.56,346.56 L238.27,345.86 L238.97,345.07 L239.68,344.18 L240.38,343.18 L241.09,342.08 L241.79,340.85 L242.50,339.50 L243.20,338.02 L243.91,336.40 L244.61,334.63 L245.32,332.72 L246.03,330.65 L246.73,328.43 L247.44,326.04 L248.14,323.49 L248.85,320.77 L249.55,317.89 L250.26,314.84 L250.96,311.62 L251.67,308.25 L252.37,304.71 L253.08,301.02 L253.78,297.18 L254.49,293.20 L255.19,289.08 L255.90,284.82 L256.60,280.45 L257.31,275.96 L258.02,271.38 L258.72,266.70 L259.43,261.94 L260.13,257.11 L260.84,252.23 L261.54,247.30 L262.25,242.34 L262.95,237.36 L263.66,232.38 L264.36,227.40 L265.07,222.45 L265.77,217.52 L266.48,212.64 L267.18,207.82 L267.89,203.07 L268.59,198.40 L269.30,193.83 L270.01,189.35 L270.71,184.99 L271.42,180.75 L272.12,176.64 L272.83,172.68 L273.53,168.86 L274.24,165.19 L274.94,161.68 L275.65,158.34 L276.35,155.18 L277.06,152.19 L277.76,149.37 L278.47,146.74 L279.17,144.30 L279.88,142.04 L280.58,139.97 L281.29,138.09 L282.00,136.40 L282.70,134.89 L283.41,133.57 L284.11,132.44 L284.82,131.48 L285.52,130.71 L286.23,130.12 L286.93,129.70 L287.64,129.46 L288.34,129.38 L289.05,129.46 L289.75,129.71 L290.46,130.10 L291.16,130.65 L291.87,131.34 L292.57,132.17 L293.28,133.14 L293.99,134.23 L294.69,135.45 L295.40,136.78 L296.10,138.23 L296.81,139.79 L297.51,141.44 L298.22,143.20 L298.92,145.04 L299.63,146.97 L300.33,148.98 L301.04,151.06 L301.74,153.21 L302.45,155.43 L303.15,157.71 L303.86,160.04 L304.56,162.43 L305.27,164.86 L305.98,167.33 L306.68,169.83 L307.39,172.37 L308.09,174.94 L308.80,177.53 L309.50,180.15 L310.21,182.78 L310.91,185.42 L311.62,188.08 L312.32,190.74 L313.03,193.41 L313.73,196.08 L314.44,198.75 L315.14,201.41 L315.85,204.07 L316.55,206.72 L317.26,209.36 L317.97,211.98 L318.67,214.59 L319.38,217.18 L320.08,219.76 L320.79,222.31 L321.49,224.84 L322.20,227.35 L322.90,229.84 L323.61,232.30 L324.31,234.73 L325.02,237.14 L325.72,239.51 L326.43,241.86 L327.13,244.18 L327.84,246.46 L328.54,248.72 L329.25,250.94 L329.96,253.13 L330.66,255.29 L331.37,257.41 L332.07,259.50 L332.78,261.56 L333.48,263.58 L334.19,265.57 L334.89,267.53 L335.60,269.45 L336.30,271.33 L337.01,273.19 L337.71,275.01 L338.42,276.79 L339.12,278.54 L339.83,280.26 L340.53,281.95 L341.24,283.60 L341.94,285.22 L342.65,286.80 L343.36,288.36 L344.06,289.88 L344.77,291.37 L345.47,292.83 L346.18,294.26 L346.88,295.66 L347.59,297.03 L348.29,298.37 L349.00,299.68 L349.70,300.96 L350.41,302.21 L351.11,303.44 L351.82,304.63 L352.52,305.80 L353.23,306.95 L353.93,308.07 L354.64,309.16 L355.35,310.22 L356.05,311.27 L356.76,312.28 L357.46,313.28 L358.17,314.25 L358.87,315.19 L359.58,316.12 L360.28,317.02 L360.99,317.90 L361.69,318.76 L362.40,319.59 L363.10,320.41 L363.81,321.21 L364.51,321.99 L365.22,322.75 L365.92,323.49 L366.63,324.21 L367.34,324.91 L368.04,325.60 L368.75,326.27 L369.45,326.92 L370.16,327.55 L370.86,328.17 L371.57,328.78 L372.27,329.36 L372.98,329.94 L373.68,330.50 L374.39,331.04 L375.09,331.57 L375.80,332.09 L376.50,332.59 L377.21,333.08 L377.91,333.56 L378.62,334.02 L379.33,334.48 L380.03,334.92 L380.74,335.35 L381.44,335.76 L382.15,336.17 L382.85,336.57 L383.56,336.95 L384.26,337.33 L384.97,337.70 L385.67,338.05 L386.38,338.40 L387.08,338.74 L387.79,339.07 L388.49,339.39 L389.20,339.70 L389.90,340.00 L390.61,340.30 L391.32,340.58 L392.02,340.86 L392.73,341.14 L393.43,341.40 L394.14,341.66 L394.84,341.91 L395.55,342.15 L396.25,342.39 L396.96,342.62 L397.66,342.85 L398.37,343.06 L399.07,343.28 L399.78,343.48 L400.48,343.69 L401.19,343.88 L401.89,344.07 L402.60,344.26 L403.31,344.44 L404.01,344.61 L404.72,344.78 L405.42,344.95 L406.13,345.11 L406.83,345.27 L407.54,345.42 L408.24,345.57 L408.95,345.71 L409.65,345.86 L410.36,345.99 L411.06,346.13 L411.77,346.25 L412.47,346.38 L413.18,346.50 L413.88,346.62 L414.59,346.74 L415.30,346.85 L416.00,346.96 L416.71,347.07 L417.41,347.17 L418.12,347.27 L418.82,347.37 L419.53,347.46 L420.23,347.56 L420.94,347.65 L421.64,347.73 L422.35,347.82 L423.05,347.90 L423.76,347.98 L424.46,348.06 L425.17,348.14 L425.87,348.21 L426.58,348.28 L427.29,348.35 L427.99,348.42 L428.70,348.49 L429.40,348.55 L430.11,348.61 L430.81,348.67 L431.52,348.73 L432.22,348.79 L432.93,348.85 L433.63,348.90 L434.34,348.95 L435.04,349.01 L435.75,349.06 L436.45,349.10 L437.16,349.15 L437.86,349.20 L438.57,349.24 L439.28,349.29 L439.98,349.33 L440.69,349.37 L441.39,349.41 L442.10,349.45 L442.80,349.49 L443.51,349.52 L444.21,349.56 L444.92,349.59 L445.62,349.63 L446.33,349.66 L447.03,349.69 L447.74,349.72 L448.44,349.75 L449.15,349.78 L449.85,349.81 L450.56,349.84 L451.27,349.86 L451.97,349.89 L452.68,349.92 L453.38,349.94 L454.09,349.96 L454.79,349.99 L455.50,350.01 L456.20,350.03 L456.91,350.05 L457.61,350.07 L458.32,350.09 L459.02,350.11 L459.73,350.13 L460.43,350.15 L461.14,350.17 L461.84,350.19 L462.55,350.20 L463.25,350.22 L463.96,350.24 L464.67,350.25 L465.37,350.27 L466.08,350.28 L466.78,350.30 L467.49,350.31 L468.19,350.33 L468.90,350.34 L469.60,350.35 L470.31,350.36 L471.01,350.38 L471.72,350.39 L472.42,350.40 L473.13,350.41 L473.83,350.42 L474.54,350.43 L475.24,350.44 L475.95,350.45 L476.66,350.46 L477.36,350.47 L478.07,350.48 L478.77,350.49 L479.48,350.50 L480.18,350.51 L480.89,350.52 L481.59,350.52 L482.30,350.53 L483.00,350.54 L483.71,350.55 L484.41,350.55 L485.12,350.56 L485.82,350.57 L486.53,350.57 L487.23,350.58 L487.94,350.59 L488.65,350.59 L489.35,350.60 L490.06,350.60 L490.76,350.61 L491.47,350.61 L492.17,350.62 L492.88,350.62 L493.58,350.63 L494.29,350.63 L494.99,350.64 L495.70,350.64 L496.40,350.65 L497.11,350.65 L497.81,350.66 L498.52,350.66 L499.22,350.66 L499.93,350.67 L500.64,350.67 L501.34,350.67 L502.05,350.68 L502.75,350.68 L503.46,350.69 L504.16,350.69 L504.87,350.69 L505.57,350.69 L506.28,350.70 L506.98,350.70 L507.69,350.70 L508.39,350.71 L509.10,350.71 L509.80,350.71 L510.51,350.71 L511.21,350.72 L511.92,350.72 L512.63,350.72 L513.33,350.72 L514.04,350.72 L514.74,350.73 L515.45,350.73 L516.15,350.73 L516.86,350.73 L517.56,350.73 L518.27,350.74 L518.97,350.74 L519.68,350.74 L520.38,350.74 L521.09,350.74 L521.79,350.75 L522.50,350.75 L523.20,350.75 L523.91,350.75" fill="none" stroke="#000000" stroke-width="2.2" stroke-linecap="round" stroke-linejoin="round"/>
<path d="M101.44,350.80 L102.15,350.80 L102.85,350.80 L103.56,350.80 L104.26,350.80 L104.97,350.80 L105.67,350.80 L106.38,350.80 L107.08,350.80 L107.79,350.80 L108.49,350.80 L109.20,350.80 L109.90,350.80 L110.61,350.80 L111.31,350.80 L112.02,350.80 L112.73,350.80 L113.43,350.80 L114.14,350.80 L114.84,350.80 L115.55,350.80 L116.25,350.80 L116.96,350.80 L117.66,350.80 L118.37,350.80 L119.07,350.80 L119.78,350.80 L120.48,350.80 L121.19,350.80 L121.89,350.80 L122.60,350.80 L123.30,350.80 L124.01,350.80 L124.72,350.80 L125.42,350.80 L126.13,350.80 L126.83,350.80 L127.54,350.80 L128.24,350.80 L128.95,350.80 L129.65,350.80 L130.36,350.80 L131.06,350.80 L131.77,350.80 L132.47,350.80 L133.18,350.80 L133.88,350.80 L134.59,350.80 L135.29,350.80 L136.00,350.80 L136.71,350.80 L137.41,350.80 L138.12,350.80 L138.82,350.80 L139.53,350.80 L140.23,350.80 L140.94,350.80 L141.64,350.80 L142.35,350.80 L143.05,350.80 L143.76,350.80 L144.46,350.80 L145.17,350.80 L145.87,350.80 L146.58,350.80 L147.28,350.80 L147.99,350.80 L148.70,350.80 L149.40,350.80 L150.11,350.80 L150.81,350.80 L151.52,350.80 L152.22,350.80 L152.93,350.80 L153.63,350.80 L154.34,350.80 L155.04,350.80 L155.75,350.80 L156.45,350.80 L157.16,350.80 L157.86,350.80 L158.57,350.80 L159.27,350.80 L159.98,350.80 L160.69,350.80 L161.39,350.80 L162.10,350.80 L162.80,350.80 L163.51,350.80 L164.21,350.80 L164.92,350.80 L165.62,350.80 L166.33,350.80 L167.03,350.80 L167.74,350.80 L168.44,350.80 L169.15,350.80 L169.85,350.80 L170.56,350.80 L171.26,350.80 L171.97,350.80 L172.68,350.80 L173.38,350.80 L174.09,350.80 L174.79,350.80 L175.50,350.80 L176.20,350.80 L176.91,350.80 L177.61,350.80 L178.32,350.80 L179.02,350.80 L179.73,350.80 L180.43,350.80 L181.14,350.80 L181.84,350.80 L182.55,350.80 L183.25,350.80 L183.96,350.80 L184.67,350.80 L185.37,350.80 L186.08,350.80 L186.78,350.80 L187.49,350.80 L188.19,350.80 L188.90,350.80 L189.60,350.80 L190.31,350.80 L191.01,350.80 L191.72,350.79 L192.42,350.79 L193.13,350.79 L193.83,350.78 L194.54,350.78 L195.24,350.77 L195.95,350.76 L196.66,350.75 L197.36,350.73 L198.07,350.71 L198.77,350.69 L199.48,350.66 L200.18,350.62 L200.89,350.58 L201.59,350.53 L202.30,350.47 L203.00,350.40 L203.71,350.31 L204.41,350.21 L205.12,350.10 L205.82,349.97 L206.53,349.82 L207.23,349.65 L207.94,349.46 L208.65,349.25 L209.35,349.01 L210.06,348.74 L210.76,348.44 L211.47,348.11 L212.17,347.75 L212.88,347.35 L213.58,346.92 L214.29,346.45 L214.99,345.93 L215.70,345.38 L216.40,344.78 L217.11,344.13 L217.81,343.44 L218.52,342.71 L219.22,341.92 L219.93,341.08 L220.63,340.20 L221.34,339.26 L222.05,338.27 L222.75,337.23 L223.46,336.13 L224.16,334.99 L224.87,333.79 L225.57,332.53 L226.28,331.23 L226.98,329.87 L227.69,328.47 L228.39,327.01 L229.10,325.50 L229.80,323.95 L230.51,322.34 L231.21,320.70 L231.92,319.00 L232.62,317.27 L233.33,315.49 L234.04,313.68 L234.74,311.83 L235.45,309.94 L236.15,308.02 L236.86,306.07 L237.56,304.09 L238.27,302.09 L238.97,300.05 L239.68,298.00 L240.38,295.93 L241.09,293.84 L241.79,291.74 L242.50,289.62 L243.20,287.50 L243.91,285.37 L244.61,283.23 L245.32,281.10 L246.03,278.96 L246.73,276.82 L247.44,274.69 L248.14,272.57 L248.85,270.46 L249.55,268.36 L250.26,266.28 L250.96,264.21 L251.67,262.16 L252.37,260.13 L253.08,258.12 L253.78,256.14 L254.49,254.19 L255.19,252.26 L255.90,250.37 L256.60,248.51 L257.31,246.68 L258.02,244.88 L258.72,243.12 L259.43,241.40 L260.13,239.72 L260.84,238.08 L261.54,236.48 L262.25,234.92 L262.95,233.41 L263.66,231.94 L264.36,230.51 L265.07,229.14 L265.77,227.80 L266.48,226.52 L267.18,225.28 L267.89,224.09 L268.59,222.95 L269.30,221.86 L270.01,220.81 L270.71,219.82 L271.42,218.88 L272.12,217.98 L272.83,217.13 L273.53,216.34 L274.24,215.59 L274.94,214.89 L275.65,214.24 L276.35,213.64 L277.06,213.09 L277.76,212.58 L278.47,212.12 L279.17,211.71 L279.88,211.35 L280.58,211.03 L281.29,210.76 L282.00,210.53 L282.70,210.34 L283.41,210.20 L284.11,210.11 L284.82,210.05 L285.52,210.04 L286.23,210.07 L286.93,210.13 L287.64,210.24 L288.34,210.39 L289.05,210.57 L289.75,210.79 L290.46,211.05 L291.16,211.34 L291.87,211.66 L292.57,212.02 L293.28,212.42 L293.99,212.84 L294.69,213.30 L295.40,213.78 L296.10,214.30 L296.81,214.84 L297.51,215.41 L298.22,216.01 L298.92,216.63 L299.63,217.28 L300.33,217.95 L301.04,218.65 L301.74,219.36 L302.45,220.10 L303.15,220.86 L303.86,221.64 L304.56,222.44 L305.27,223.26 L305.98,224.10 L306.68,224.95 L307.39,225.82 L308.09,226.70 L308.80,227.60 L309.50,228.51 L310.21,229.43 L310.91,230.37 L311.62,231.32 L312.32,232.28 L313.03,233.25 L313.73,234.23 L314.44,235.22 L315.14,236.21 L315.85,237.22 L316.55,238.23 L317.26,239.25 L317.97,240.27 L318.67,241.30 L319.38,242.33 L320.08,243.37 L320.79,244.41 L321.49,245.46 L322.20,246.50 L322.90,247.55 L323.61,248.61 L324.31,249.66 L325.02,250.71 L325.72,251.77 L326.43,252.82 L327.13,253.88 L327.84,254.93 L328.54,255.98 L329.25,257.03 L329.96,258.08 L330.66,259.13 L331.37,260.17 L332.07,261.21 L332.78,262.25 L333.48,263.28 L334.19,264.31 L334.89,265.34 L335.60,266.36 L336.30,267.38 L337.01,268.39 L337.71,269.40 L338.42,270.40 L339.12,271.40 L339.83,272.39 L340.53,273.37 L341.24,274.35 L341.94,275.32 L342.65,276.29 L343.36,277.25 L344.06,278.20 L344.77,279.15 L345.47,280.09 L346.18,281.02 L346.88,281.95 L347.59,282.86 L348.29,283.77 L349.00,284.68 L349.70,285.57 L350.41,286.46 L351.11,287.34 L351.82,288.21 L352.52,289.07 L353.23,289.93 L353.93,290.77 L354.64,291.61 L355.35,292.45 L356.05,293.27 L356.76,294.08 L357.46,294.89 L358.17,295.69 L358.87,296.48 L359.58,297.26 L360.28,298.03 L360.99,298.80 L361.69,299.55 L362.40,300.30 L363.10,301.04 L363.81,301.77 L364.51,302.50 L365.22,303.21 L365.92,303.92 L366.63,304.62 L367.34,305.31 L368.04,305.99 L368.75,306.66 L369.45,307.33 L370.16,307.99 L370.86,308.64 L371.57,309.28 L372.27,309.91 L372.98,310.54 L373.68,311.15 L374.39,311.76 L375.09,312.36 L375.80,312.96 L376.50,313.55 L377.21,314.12 L377.91,314.70 L378.62,315.26 L379.33,315.82 L380.03,316.36 L380.74,316.90 L381.44,317.44 L382.15,317.97 L382.85,318.48 L383.56,319.00 L384.26,319.50 L384.97,320.00 L385.67,320.49 L386.38,320.98 L387.08,321.45 L387.79,321.92 L388.49,322.39 L389.20,322.85 L389.90,323.30 L390.61,323.74 L391.32,324.18 L392.02,324.61 L392.73,325.04 L393.43,325.46 L394.14,325.87 L394.84,326.28 L395.55,326.68 L396.25,327.07 L396.96,327.46 L397.66,327.84 L398.37,328.22 L399.07,328.59 L399.78,328.96 L400.48,329.32 L401.19,329.68 L401.89,330.03 L402.60,330.37 L403.31,330.71 L404.01,331.04 L404.72,331.37 L405.42,331.70 L406.13,332.02 L406.83,332.33 L407.54,332.64 L408.24,332.94 L408.95,333.24 L409.65,333.54 L410.36,333.83 L411.06,334.11 L411.77,334.39 L412.47,334.67 L413.18,334.94 L413.88,335.21 L414.59,335.47 L415.30,335.73 L416.00,335.99 L416.71,336.24 L417.41,336.49 L418.12,336.73 L418.82,336.97 L419.53,337.20 L420.23,337.43 L420.94,337.66 L421.64,337.89 L422.35,338.11 L423.05,338.32 L423.76,338.54 L424.46,338.75 L425.17,338.95 L425.87,339.16 L426.58,339.36 L427.29,339.55 L427.99,339.75 L428.70,339.94 L429.40,340.12 L430.11,340.31 L430.81,340.49 L431.52,340.66 L432.22,340.84 L432.93,341.01 L433.63,341.18 L434.34,341.35 L435.04,341.51 L435.75,341.67 L436.45,341.83 L437.16,341.98 L437.86,342.14 L438.57,342.29 L439.28,342.43 L439.98,342.58 L440.69,342.72 L441.39,342.86 L442.10,343.00 L442.80,343.13 L443.51,343.27 L444.21,343.40 L444.92,343.53 L445.62,343.65 L446.33,343.78 L447.03,343.90 L447.74,344.02 L448.44,344.14 L449.15,344.25 L449.85,344.37 L450.56,344.48 L451.27,344.59 L451.97,344.70 L452.68,344.81 L453.38,344.91 L454.09,345.01 L454.79,345.11 L455.50,345.21 L456.20,345.31 L456.91,345.41 L457.61,345.50 L458.32,345.59 L459.02,345.68 L459.73,345.77 L460.43,345.86 L461.14,345.95 L461.84,346.03 L462.55,346.12 L463.25,346.20 L463.96,346.28 L464.67,346.36 L465.37,346.44 L466.08,346.51 L466.78,346.59 L467.49,346.66 L468.19,346.73 L468.90,346.81 L469.60,346.88 L470.31,346.94 L471.01,347.01 L471.72,347.08 L472.42,347.14 L473.13,347.21 L473.83,347.27 L474.54,347.33 L475.24,347.39 L475.95,347.45 L476.66,347.51 L477.36,347.57 L478.07,347.63 L478.77,347.68 L479.48,347.74 L480.18,347.79 L480.89,347.84 L481.59,347.90 L482.30,347.95 L483.00,348.00 L483.71,348.05 L484.41,348.09 L485.12,348.14 L485.82,348.19 L486.53,348.23 L487.23,348.28 L487.94,348.32 L488.65,348.37 L489.35,348.41 L490.06,348.45 L490.76,348.49 L491.47,348.53 L492.17,348.57 L492.88,348.61 L493.58,348.65 L494.29,348.69 L494.99,348.73 L495.70,348.76 L496.40,348.80 L497.11,348.83 L497.81,348.87 L498.52,348.90 L499.22,348.93 L499.93,348.97 L500.64,349.00 L501.34,349.03 L502.05,349.06 L502.75,349.09 L503.46,349.12 L504.16,349.15 L504.87,349.18 L505.57,349.21 L506.28,349.24 L506.98,349.26 L507.69,349.29 L508.39,349.32 L509.10,349.34 L509.80,349.37 L510.51,349.39 L511.21,349.42 L511.92,349.44 L512.63,349.47 L513.33,349.49 L514.04,349.51 L514.74,349.54 L515.45,349.56 L516.15,349.58 L516.86,349.60 L517.56,349.62 L518.27,349.64 L518.97,349.66 L519.68,349.68 L520.38,349.70 L521.09,349.72 L521.79,349.74 L522.50,349.76 L523.20,349.78 L523.91,349.79" fill="none" stroke="#d42b2b" stroke-width="2.2" stroke-linecap="round" stroke-linejoin="round"/>
<path d="M101.44,350.80 L102.15,350.80 L102.85,350.80 L103.56,350.80 L104.26,350.80 L104.97,350.80 L105.67,350.80 L106.38,350.80 L107.08,350.80 L107.79,350.80 L108.49,350.80 L109.20,350.80 L109.90,350.80 L110.61,350.80 L111.31,350.80 L112.02,350.80 L112.73,350.80 L113.43,350.80 L114.14,350.80 L114.84,350.80 L115.55,350.80 L116.25,350.80 L116.96,350.80 L117.66,350.80 L118.37,350.80 L119.07,350.80 L119.78,350.80 L120.48,350.80 L121.19,350.80 L121.89,350.80 L122.60,350.80 L123.30,350.80 L124.01,350.80 L124.72,350.80 L125.42,350.80 L126.13,350.80 L126.83,350.80 L127.54,350.80 L128.24,350.80 L128.95,350.80 L129.65,350.80 L130.36,350.80 L131.06,350.80 L131.77,350.80 L132.47,350.80 L133.18,350.80 L133.88,350.80 L134.59,350.80 L135.29,350.80 L136.00,350.80 L136.71,350.80 L137.41,350.80 L138.12,350.80 L138.82,350.80 L139.53,350.80 L140.23,350.80 L140.94,350.80 L141.64,350.80 L142.35,350.80 L143.05,350.80 L143.76,350.80 L144.46,350.80 L145.17,350.80 L145.87,350.80 L146.58,350.80 L147.28,350.80 L147.99,350.80 L148.70,350.80 L149.40,350.80 L150.11,350.80 L150.81,350.80 L151.52,350.80 L152.22,350.80 L152.93,350.80 L153.63,350.80 L154.34,350.80 L155.04,350.80 L155.75,350.80 L156.45,350.80 L157.16,350.80 L157.86,350.80 L158.57,350.80 L159.27,350.80 L159.98,350.80 L160.69,350.80 L161.39,350.80 L162.10,350.80 L162.80,350.80 L163.51,350.80 L164.21,350.80 L164.92,350.80 L165.62,350.80 L166.33,350.80 L167.03,350.80 L167.74,350.80 L168.44,350.80 L169.15,350.80 L169.85,350.80 L170.56,350.80 L171.26,350.80 L171.97,350.80 L172.68,350.80 L173.38,350.80 L174.09,350.80 L174.79,350.80 L175.50,350.80 L176.20,350.80 L176.91,350.80 L177.61,350.80 L178.32,350.80 L179.02,350.80 L179.73,350.80 L180.43,350.80 L181.14,350.80 L181.84,350.80 L182.55,350.80 L183.25,350.80 L183.96,350.80 L184.67,350.80 L185.37,350.80 L186.08,350.80 L186.78,350.80 L187.49,350.80 L188.19,350.80 L188.90,350.80 L189.60,350.80 L190.31,350.80 L191.01,350.80 L191.72,350.80 L192.42,350.80 L193.13,350.80 L193.83,350.80 L194.54,350.80 L195.24,350.80 L195.95,350.80 L196.66,350.80 L197.36,350.80 L198.07,350.80 L198.77,350.80 L199.48,350.80 L200.18,350.80 L200.89,350.80 L201.59,350.80 L202.30,350.80 L203.00,350.80 L203.71,350.80 L204.41,350.80 L205.12,350.80 L205.82,350.80 L206.53,350.80 L207.23,350.80 L207.94,350.80 L208.65,350.80 L209.35,350.80 L210.06,350.80 L210.76,350.80 L211.47,350.80 L212.17,350.80 L212.88,350.80 L213.58,350.80 L214.29,350.80 L214.99,350.80 L215.70,350.80 L216.40,350.80 L217.11,350.80 L217.81,350.80 L218.52,350.80 L219.22,350.80 L219.93,350.80 L220.63,350.80 L221.34,350.80 L222.05,350.80 L222.75,350.80 L223.46,350.80 L224.16,350.80 L224.87,350.80 L225.57,350.80 L226.28,350.80 L226.98,350.80 L227.69,350.80 L228.39,350.80 L229.10,350.80 L229.80,350.80 L230.51,350.80 L231.21,350.80 L231.92,350.80 L232.62,350.80 L233.33,350.80 L234.04,350.80 L234.74,350.80 L235.45,350.80 L236.15,350.80 L236.86,350.80 L237.56,350.80 L238.27,350.80 L238.97,350.80 L239.68,350.80 L240.38,350.80 L241.09,350.80 L241.79,350.80 L242.50,350.80 L243.20,350.80 L243.91,350.80 L244.61,350.80 L245.32,350.80 L246.03,350.80 L246.73,350.80 L247.44,350.80 L248.14,350.80 L248.85,350.80 L249.55,350.80 L250.26,350.80 L250.96,350.80 L251.67,350.80 L252.37,350.80 L253.08,350.80 L253.78,350.80 L254.49,350.80 L255.19,350.80 L255.90,350.80 L256.60,350.80 L257.31,350.80 L258.02,350.80 L258.72,350.80 L259.43,350.80 L260.13,350.80 L260.84,350.80 L261.54,350.80 L262.25,350.80 L262.95,350.80 L263.66,350.80 L264.36,350.80 L265.07,350.80 L265.77,350.80 L266.48,350.80 L267.18,350.80 L267.89,350.80 L268.59,350.80 L269.30,350.80 L270.01,350.80 L270.71,350.80 L271.42,350.80 L272.12,350.80 L272.83,350.80 L273.53,350.80 L274.24,350.80 L274.94,350.80 L275.65,350.80 L276.35,350.80 L277.06,350.80 L277.76,350.80 L278.47,350.80 L279.17,350.80 L279.88,350.80 L280.58,350.80 L281.29,350.80 L282.00,350.80 L282.70,350.80 L283.41,350.80 L284.11,350.80 L284.82,350.80 L285.52,350.80 L286.23,350.80 L286.93,350.80 L287.64,350.80 L288.34,350.80 L289.05,350.80 L289.75,350.80 L290.46,350.80 L291.16,350.80 L291.87,350.80 L292.57,350.80 L293.28,350.80 L293.99,350.80 L294.69,350.80 L295.40,350.80 L296.10,350.80 L296.81,350.80 L297.51,350.80 L298.22,350.80 L298.92,350.80 L299.63,350.80 L300.33,350.80 L301.04,350.80 L301.74,350.80 L302.45,350.80 L303.15,350.80 L303.86,350.80 L304.56,350.80 L305.27,350.80 L305.98,350.80 L306.68,350.80 L307.39,350.80 L308.09,350.80 L308.80,350.80 L309.50,350.80 L310.21,350.80 L310.91,350.80 L311.62,350.80 L312.32,350.80 L313.03,350.80 L313.73,350.80 L314.44,350.80 L315.14,350.80 L315.85,350.80 L316.55,350.80 L317.26,350.80 L317.97,350.80 L318.67,350.80 L319.38,350.79 L320.08,350.79 L320.79,350.79 L321.49,350.79 L322.20,350.79 L322.90,350.78 L323.61,350.78 L324.31,350.77 L325.02,350.77 L325.72,350.76 L326.43,350.75 L327.13,350.74 L327.84,350.73 L328.54,350.71 L329.25,350.69 L329.96,350.67 L330.66,350.64 L331.37,350.61 L332.07,350.57 L332.78,350.53 L333.48,350.47 L334.19,350.41 L334.89,350.35 L335.60,350.26 L336.30,350.17 L337.01,350.07 L337.71,349.94 L338.42,349.81 L339.12,349.65 L339.83,349.47 L340.53,349.27 L341.24,349.04 L341.94,348.78 L342.65,348.50 L343.36,348.18 L344.06,347.82 L344.77,347.43 L345.47,346.99 L346.18,346.50 L346.88,345.97 L347.59,345.38 L348.29,344.74 L349.00,344.04 L349.70,343.27 L350.41,342.44 L351.11,341.53 L351.82,340.55 L352.52,339.50 L353.23,338.36 L353.93,337.13 L354.64,335.81 L355.35,334.41 L356.05,332.90 L356.76,331.30 L357.46,329.60 L358.17,327.79 L358.87,325.88 L359.58,323.86 L360.28,321.73 L360.99,319.49 L361.69,317.14 L362.40,314.68 L363.10,312.10 L363.81,309.41 L364.51,306.61 L365.22,303.70 L365.92,300.67 L366.63,297.55 L367.34,294.31 L368.04,290.98 L368.75,287.54 L369.45,284.01 L370.16,280.39 L370.86,276.68 L371.57,272.89 L372.27,269.02 L372.98,265.08 L373.68,261.08 L374.39,257.01 L375.09,252.90 L375.80,248.74 L376.50,244.54 L377.21,240.31 L377.91,236.06 L378.62,231.79 L379.33,227.51 L380.03,223.24 L380.74,218.97 L381.44,214.73 L382.15,210.50 L382.85,206.31 L383.56,202.16 L384.26,198.07 L384.97,194.02 L385.67,190.05 L386.38,186.14 L387.08,182.32 L387.79,178.58 L388.49,174.94 L389.20,171.40 L389.90,167.97 L390.61,164.65 L391.32,161.45 L392.02,158.37 L392.73,155.42 L393.43,152.61 L394.14,149.94 L394.84,147.41 L395.55,145.02 L396.25,142.79 L396.96,140.71 L397.66,138.78 L398.37,137.01 L399.07,135.40 L399.78,133.94 L400.48,132.65 L401.19,131.51 L401.89,130.54 L402.60,129.73 L403.31,129.08 L404.01,128.58 L404.72,128.25 L405.42,128.07 L406.13,128.04 L406.83,128.16 L407.54,128.44 L408.24,128.86 L408.95,129.42 L409.65,130.12 L410.36,130.96 L411.06,131.94 L411.77,133.04 L412.47,134.26 L413.18,135.61 L413.88,137.08 L414.59,138.66 L415.30,140.34 L416.00,142.13 L416.71,144.02 L417.41,146.00 L418.12,148.07 L418.82,150.23 L419.53,152.46 L420.23,154.78 L420.94,157.16 L421.64,159.61 L422.35,162.12 L423.05,164.68 L423.76,167.30 L424.46,169.97 L425.17,172.68 L425.87,175.43 L426.58,178.21 L427.29,181.03 L427.99,183.87 L428.70,186.73 L429.40,189.62 L430.11,192.52 L430.81,195.43 L431.52,198.34 L432.22,201.26 L432.93,204.19 L433.63,207.11 L434.34,210.03 L435.04,212.93 L435.75,215.83 L436.45,218.72 L437.16,221.59 L437.86,224.44 L438.57,227.27 L439.28,230.08 L439.98,232.87 L440.69,235.63 L441.39,238.36 L442.10,241.06 L442.80,243.73 L443.51,246.37 L444.21,248.97 L444.92,251.54 L445.62,254.08 L446.33,256.57 L447.03,259.03 L447.74,261.45 L448.44,263.83 L449.15,266.17 L449.85,268.47 L450.56,270.73 L451.27,272.95 L451.97,275.13 L452.68,277.26 L453.38,279.35 L454.09,281.40 L454.79,283.41 L455.50,285.37 L456.20,287.29 L456.91,289.17 L457.61,291.01 L458.32,292.81 L459.02,294.56 L459.73,296.28 L460.43,297.95 L461.14,299.58 L461.84,301.18 L462.55,302.73 L463.25,304.24 L463.96,305.72 L464.67,307.16 L465.37,308.56 L466.08,309.92 L466.78,311.24 L467.49,312.53 L468.19,313.79 L468.90,315.01 L469.60,316.19 L470.31,317.34 L471.01,318.46 L471.72,319.55 L472.42,320.61 L473.13,321.63 L473.83,322.63 L474.54,323.59 L475.24,324.53 L475.95,325.43 L476.66,326.31 L477.36,327.17 L478.07,327.99 L478.77,328.79 L479.48,329.57 L480.18,330.32 L480.89,331.05 L481.59,331.75 L482.30,332.43 L483.00,333.09 L483.71,333.73 L484.41,334.35 L485.12,334.94 L485.82,335.52 L486.53,336.08 L487.23,336.61 L487.94,337.14 L488.65,337.64 L489.35,338.12 L490.06,338.59 L490.76,339.05 L491.47,339.48 L492.17,339.91 L492.88,340.31 L493.58,340.71 L494.29,341.09 L494.99,341.45 L495.70,341.81 L496.40,342.15 L497.11,342.48 L497.81,342.79 L498.52,343.10 L499.22,343.39 L499.93,343.68 L500.64,343.95 L501.34,344.21 L502.05,344.47 L502.75,344.71 L503.46,344.95 L504.16,345.17 L504.87,345.39 L505.57,345.60 L506.28,345.81 L506.98,346.00 L507.69,346.19 L508.39,346.37 L509.10,346.54 L509.80,346.71 L510.51,346.87 L511.21,347.03 L511.92,347.18 L512.63,347.32 L513.33,347.46 L514.04,347.59 L514.74,347.72 L515.45,347.84 L516.15,347.96 L516.86,348.07 L517.56,348.18 L518.27,348.28 L518.97,348.38 L519.68,348.48 L520.38,348.57 L521.09,348.66 L521.79,348.75 L522.50,348.83 L523.20,348.91 L523.91,348.99" fill="none" stroke="#008b8b" stroke-width="2.2" stroke-linecap="round" stroke-linejoin="round"/>
<rect x="84.2" y="9.5" width="456.7" height="354.05" fill="none" stroke="#222" stroke-width="1.2"/>
<line x1="101.30" y1="363.55" x2="101.30" y2="374.25" stroke="#222" stroke-width="1.2"/>
<line x1="84.2" y1="350.80" x2="73.5" y2="350.80" stroke="#222" stroke-width="1.2"/>
<text x="101.30" y="400.6" font-size="17" text-anchor="middle" class="t">0.0</text>
<text transform="translate(60.4,350.80) rotate(-90)" font-size="17" text-anchor="middle" class="t">0.0</text>
<line x1="171.74" y1="363.55" x2="171.74" y2="374.25" stroke="#222" stroke-width="1.2"/>
<line x1="84.2" y1="296.15" x2="73.5" y2="296.15" stroke="#222" stroke-width="1.2"/>
<text x="171.74" y="400.6" font-size="17" text-anchor="middle" class="t">0.5</text>
<text transform="translate(60.4,296.15) rotate(-90)" font-size="17" text-anchor="middle" class="t">0.5</text>
<line x1="242.17" y1="363.55" x2="242.17" y2="374.25" stroke="#222" stroke-width="1.2"/>
<line x1="84.2" y1="241.50" x2="73.5" y2="241.50" stroke="#222" stroke-width="1.2"/>
<text x="242.17" y="400.6" font-size="17" text-anchor="middle" class="t">1.0</text>
<text transform="translate(60.4,241.50) rotate(-90)" font-size="17" text-anchor="middle" class="t">1.0</text>
<line x1="312.61" y1="363.55" x2="312.61" y2="374.25" stroke="#222" stroke-width="1.2"/>
<line x1="84.2" y1="186.85" x2="73.5" y2="186.85" stroke="#222" stroke-width="1.2"/>
<text x="312.61" y="400.6" font-size="17" text-anchor="middle" class="t">1.5</text>
<text transform="translate(60.4,186.85) rotate(-90)" font-size="17" text-anchor="middle" class="t">1.5</text>
<line x1="383.04" y1="363.55" x2="383.04" y2="374.25" stroke="#222" stroke-width="1.2"/>
<line x1="84.2" y1="132.20" x2="73.5" y2="132.20" stroke="#222" stroke-width="1.2"/>
<text x="383.04" y="400.6" font-size="17" text-anchor="middle" class="t">2.0</text>
<text transform="translate(60.4,132.20) rotate(-90)" font-size="17" text-anchor="middle" class="t">2.0</text>
<line x1="453.48" y1="363.55" x2="453.48" y2="374.25" stroke="#222" stroke-width="1.2"/>
<line x1="84.2" y1="77.55" x2="73.5" y2="77.55" stroke="#222" stroke-width="1.2"/>
<text x="453.48" y="400.6" font-size="17" text-anchor="middle" class="t">2.5</text>
<text transform="translate(60.4,77.55) rotate(-90)" font-size="17" text-anchor="middle" class="t">2.5</text>
<line x1="523.91" y1="363.55" x2="523.91" y2="374.25" stroke="#222" stroke-width="1.2"/>
<line x1="84.2" y1="22.90" x2="73.5" y2="22.90" stroke="#222" stroke-width="1.2"/>
<text x="523.91" y="400.6" font-size="17" text-anchor="middle" class="t">3.0</text>
<text transform="translate(60.4,22.90) rotate(-90)" font-size="17" text-anchor="middle" class="t">3.0</text>
<text x="312.4" y="440.4" font-size="17" text-anchor="middle" class="t">x</text>
<text transform="translate(19.3,187.2) rotate(-90)" font-size="17" text-anchor="middle" class="t">f(x)</text>
<rect x="375.8" y="15.6" width="161.3" height="98.4" fill="#fff" stroke="#222" stroke-width="1.2"/>
<line x1="386.4" y1="29.50" x2="407.6" y2="29.50" stroke="#cd0bbc" stroke-width="2.3" stroke-linecap="round"/>
<text x="418.3" y="32.60" font-size="13" class="g">α</text>
<text transform="translate(427.6,29.20) scale(0.98,0.78)" y="3.9" font-size="11.2" class="l" style="fill:#333;stroke:#333;stroke-width:0.15">=</text>
<text transform="translate(452.6,32.60) scale(1.1,1)" text-anchor="end" font-size="11.2" class="l">1.8</text>
<text x="458.5" y="32.20" font-size="12.4" class="g">β</text>
<text transform="translate(466.9,29.20) scale(0.98,0.78)" y="3.9" font-size="11.2" class="l" style="fill:#333;stroke:#333;stroke-width:0.15">=</text>
<text transform="translate(490.5,32.60) scale(0.95,1)" text-anchor="end" font-size="11.2" class="l">0.1</text>
<text x="496.7" y="32.60" font-size="12" class="g">θ</text>
<text transform="translate(504.7,29.20) scale(0.98,0.78)" y="3.9" font-size="11.2" class="l" style="fill:#333;stroke:#333;stroke-width:0.15">=</text>
<text transform="translate(528.5,32.60) scale(0.95,1)" text-anchor="end" font-size="11.2" class="l">9.1</text>
<line x1="386.4" y1="43.61" x2="407.6" y2="43.61" stroke="#2297e6" stroke-width="2.3" stroke-linecap="round"/>
<text x="418.3" y="46.71" font-size="13" class="g">α</text>
<text transform="translate(427.6,43.31) scale(0.98,0.78)" y="3.9" font-size="11.2" class="l" style="fill:#333;stroke:#333;stroke-width:0.15">=</text>
<text transform="translate(452.6,46.71) scale(1.1,1)" text-anchor="end" font-size="11.2" class="l">2.4</text>
<text x="458.5" y="46.31" font-size="12.4" class="g">β</text>
<text transform="translate(466.9,43.31) scale(0.98,0.78)" y="3.9" font-size="11.2" class="l" style="fill:#333;stroke:#333;stroke-width:0.15">=</text>
<text transform="translate(490.5,46.71) scale(0.95,1)" text-anchor="end" font-size="11.2" class="l">0.7</text>
<text x="496.7" y="46.71" font-size="12" class="g">θ</text>
<text transform="translate(504.7,43.31) scale(0.98,0.78)" y="3.9" font-size="11.2" class="l" style="fill:#333;stroke:#333;stroke-width:0.15">=</text>
<text transform="translate(528.5,46.71) scale(0.95,1)" text-anchor="end" font-size="11.2" class="l">1.1</text>
<line x1="386.4" y1="57.72" x2="407.6" y2="57.72" stroke="#61d04f" stroke-width="2.3" stroke-linecap="round"/>
<text x="418.3" y="60.82" font-size="13" class="g">α</text>
<text transform="translate(427.6,57.42) scale(0.98,0.78)" y="3.9" font-size="11.2" class="l" style="fill:#333;stroke:#333;stroke-width:0.15">=</text>
<text transform="translate(452.6,60.82) scale(1.1,1)" text-anchor="end" font-size="11.2" class="l">4.8</text>
<text x="458.5" y="60.42" font-size="12.4" class="g">β</text>
<text transform="translate(466.9,57.42) scale(0.98,0.78)" y="3.9" font-size="11.2" class="l" style="fill:#333;stroke:#333;stroke-width:0.15">=</text>
<text transform="translate(490.5,60.82) scale(0.95,1)" text-anchor="end" font-size="11.2" class="l">0.9</text>
<text x="496.7" y="60.82" font-size="12" class="g">θ</text>
<text transform="translate(504.7,57.42) scale(0.98,0.78)" y="3.9" font-size="11.2" class="l" style="fill:#333;stroke:#333;stroke-width:0.15">=</text>
<text transform="translate(528.5,60.82) scale(0.95,1)" text-anchor="end" font-size="11.2" class="l">0.1</text>
<line x1="386.4" y1="71.83" x2="407.6" y2="71.83" stroke="#000000" stroke-width="2.3" stroke-linecap="round"/>
<text x="418.3" y="74.93" font-size="13" class="g">α</text>
<text transform="translate(427.6,71.53) scale(0.98,0.78)" y="3.9" font-size="11.2" class="l" style="fill:#333;stroke:#333;stroke-width:0.15">=</text>
<text transform="translate(452.6,74.93) scale(1.1,1)" text-anchor="end" font-size="11.2" class="l">6.6</text>
<text x="458.5" y="74.53" font-size="12.4" class="g">β</text>
<text transform="translate(466.9,71.53) scale(0.98,0.78)" y="3.9" font-size="11.2" class="l" style="fill:#333;stroke:#333;stroke-width:0.15">=</text>
<text transform="translate(490.5,74.93) scale(0.95,1)" text-anchor="end" font-size="11.2" class="l">0.5</text>
<text x="496.7" y="74.93" font-size="12" class="g">θ</text>
<text transform="translate(504.7,71.53) scale(0.98,0.78)" y="3.9" font-size="11.2" class="l" style="fill:#333;stroke:#333;stroke-width:0.15">=</text>
<text transform="translate(528.5,74.93) scale(0.95,1)" text-anchor="end" font-size="11.2" class="l">4.2</text>
<line x1="386.4" y1="85.94" x2="407.6" y2="85.94" stroke="#d42b2b" stroke-width="2.3" stroke-linecap="round"/>
<text x="418.3" y="89.04" font-size="13" class="g">α</text>
<text transform="translate(427.6,85.64) scale(0.98,0.78)" y="3.9" font-size="11.2" class="l" style="fill:#333;stroke:#333;stroke-width:0.15">=</text>
<text transform="translate(452.6,89.04) scale(1.1,1)" text-anchor="end" font-size="11.2" class="l">9.9</text>
<text x="458.5" y="88.64" font-size="12.4" class="g">β</text>
<text transform="translate(466.9,85.64) scale(0.98,0.78)" y="3.9" font-size="11.2" class="l" style="fill:#333;stroke:#333;stroke-width:0.15">=</text>
<text transform="translate(490.5,89.04) scale(0.95,1)" text-anchor="end" font-size="11.2" class="l">1.9</text>
<text x="496.7" y="89.04" font-size="12" class="g">θ</text>
<text transform="translate(504.7,85.64) scale(0.98,0.78)" y="3.9" font-size="11.2" class="l" style="fill:#333;stroke:#333;stroke-width:0.15">=</text>
<text transform="translate(528.5,89.04) scale(0.95,1)" text-anchor="end" font-size="11.2" class="l">1.8</text>
<line x1="386.4" y1="100.05" x2="407.6" y2="100.05" stroke="#008b8b" stroke-width="2.3" stroke-linecap="round"/>
<text x="418.3" y="103.15" font-size="13" class="g">α</text>
<text transform="translate(427.6,99.75) scale(0.98,0.78)" y="3.9" font-size="11.2" class="l" style="fill:#333;stroke:#333;stroke-width:0.15">=</text>
<text transform="translate(452.6,103.15) scale(1.1,1)" text-anchor="end" font-size="11.2" class="l">9.9</text>
<text x="458.5" y="102.75" font-size="12.4" class="g">β</text>
<text transform="translate(466.9,99.75) scale(0.98,0.78)" y="3.9" font-size="11.2" class="l" style="fill:#333;stroke:#333;stroke-width:0.15">=</text>
<text transform="translate(490.5,103.15) scale(0.95,1)" text-anchor="end" font-size="11.2" class="l">0.3</text>
<text x="496.7" y="103.15" font-size="12" class="g">θ</text>
<text transform="translate(504.7,99.75) scale(0.98,0.78)" y="3.9" font-size="11.2" class="l" style="fill:#333;stroke:#333;stroke-width:0.15">=</text>
<text transform="translate(528.5,103.15) scale(0.95,1)" text-anchor="end" font-size="11.2" class="l">9.9</text>
</svg>
</body></html>
